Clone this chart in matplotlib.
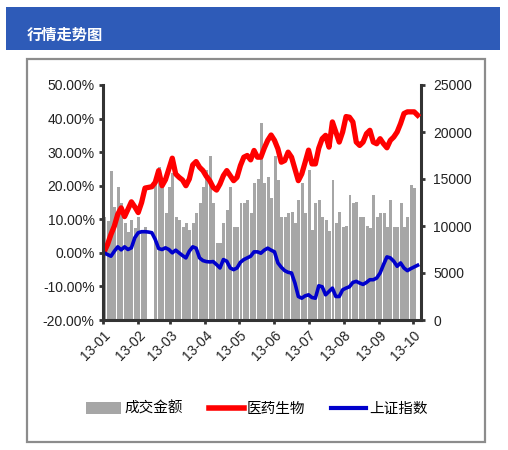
import numpy as np
import pandas as pd
import matplotlib
matplotlib.use('Agg')
import matplotlib.pyplot as plt
import matplotlib.dates as mdates
from matplotlib.patches import Rectangle, Patch
from matplotlib.lines import Line2D

plt.rcParams['font.family'] = ['Liberation Sans', 'Noto Sans CJK SC', 'DejaVu Sans']

dates = pd.date_range('2013-01-02', periods=93, freq='3D')

# 医药生物 (%)
pharma = [0.3, 2.5, 5.5, 8, 11.5, 13.4, 10.8, 13, 15.2, 13.7,
          12, 15, 19.3, 19.5, 19.7, 21, 24.5, 20, 21.8, 25,
          28.2, 23.5, 22.5, 21.7, 20, 22, 26.2, 27.2, 25.5, 24.5,
          22.8, 21.5, 19.5, 18.7, 20.5, 23, 24.5, 23, 21.5, 22.5,
          26, 28.5, 29, 27.7, 30.5, 28.5, 28.5, 31.2, 33.5, 35.1,
          33.5, 31, 27, 27.5, 30, 28.5, 25, 21.5, 23.5, 27,
          30.6, 26.5, 26.5, 31.2, 34, 35, 31.5, 39, 36, 33,
          36, 40.6, 40.4, 39, 33, 32, 33, 35.5, 36.5, 33,
          32.5, 34, 32.5, 31.3, 33.5, 34.5, 36, 38.5, 41.5, 42,
          42, 42, 41]

# 上证指数 (%)
shindex = [0, -0.5, -1, 0.5, 1.8, 0.9, 1.8, 1, 1.5, 4.5,
           6, 6.3, 6.3, 6.2, 6, 4, 1.3, 1, 1.5, 1,
           0, 0.8, 0, -0.8, -1.5, 0.5, 1.8, 1.4, -1.5, -2.3,
           -2.6, -2.7, -2.6, -3.5, -4.5, -2, -2.5, -4.5, -5, -4.5,
           -2.8, -2, -1.5, -1, 0.3, 0.3, -0.1, 0.8, 1.4, 0.8,
           0.3, -3, -4.3, -5.3, -5.8, -6, -9, -13, -13.5, -12.8,
           -12.5, -13.3, -13.5, -9.8, -10.1, -12.5, -11.5, -10.5, -13, -13,
           -11, -10.5, -10.1, -8.8, -8.5, -9, -9.4, -8.8, -8, -8,
           -7.5, -6, -3.5, -1.2, -1.5, -2.5, -4, -3, -4.5, -5.3,
           -4.7, -4.2, -3.7]

# 成交金额
turnover = [11000, 10500, 15800, 12000, 14200, 12500, 10300, 9400, 10600, 9800,
            11000, 9300, 9900, 0, 0, 14900, 16300, 14900, 11400, 14200,
            15600, 11000, 10600, 9900, 10300, 9600, 10300, 11400, 12400, 14200,
            16000, 17400, 12400, 8200, 8200, 10300, 11700, 14200, 9900, 9900,
            12400, 12400, 12800, 11400, 14600, 15000, 21000, 14600, 15200, 13000,
            17400, 14900, 11000, 11000, 11400, 11500, 10300, 12800, 14600, 11400,
            16000, 9600, 12400, 12800, 11000, 10600, 9500, 14900, 10300, 11500,
            9900, 10000, 13300, 12400, 12600, 11000, 11000, 10000, 9800, 13300,
            11000, 11400, 11400, 9900, 12800, 9900, 9900, 12400, 9900, 11000,
            14400, 14000, 0]

fig = plt.figure(figsize=(5.08, 4.5), dpi=100)

# header band and frame
fig.patches.append(Rectangle((6/508, 1-50/450), 494/508, 43/450, transform=fig.transFigure,
                             facecolor='#2E5BB8', edgecolor='none'))
fig.text(27/508, 1-35/450, '行情走势图', color='white', fontsize=11, fontweight='bold',
         va='center', ha='left', family=['Noto Sans CJK SC', 'DejaVu Sans'])
fig.patches.append(Rectangle((27/508, 1-442/450), 458/508, 383/450, transform=fig.transFigure,
                             facecolor='none', edgecolor='#8C8C8C', linewidth=1.6))

ax = fig.add_axes([103/508, 1-320/450, 318/508, 235/450])
ax2 = ax.twinx()

ax2.bar(dates + pd.Timedelta(hours=12), turnover, width=2.6, color='#A6A6A6', linewidth=0)
ax.plot(dates, pharma, color='#FF0000', linewidth=3.8, solid_joinstyle='round')
ax.plot(dates, shindex, color='#0000CC', linewidth=2.6, solid_joinstyle='round')

ax.set_zorder(ax2.get_zorder() + 1)
ax.patch.set_visible(False)

ax.set_xlim(pd.Timestamp('2013-01-01'), pd.Timestamp('2013-10-08'))
ax.set_ylim(-20, 50)
ax.set_yticks(np.arange(-20, 51, 10))
ax.yaxis.set_major_formatter(plt.FuncFormatter(lambda v, p: '%.2f%%' % v))
ax2.set_ylim(0, 25000)
ax2.set_yticks(np.arange(0, 25001, 5000))

ax.xaxis.set_major_locator(mdates.MonthLocator())
ax.xaxis.set_major_formatter(mdates.DateFormatter('%y-%m'))
for lbl in ax.get_xticklabels():
    lbl.set_rotation(45)
    lbl.set_ha('right')
    lbl.set_va('top')
    lbl.set_rotation_mode('anchor')

for a in (ax, ax2):
    for s in a.spines.values():
        s.set_visible(False)
ax.spines['left'].set_visible(True)
ax.spines['bottom'].set_visible(True)
ax2.spines['right'].set_visible(True)
for s in (ax.spines['left'], ax.spines['bottom'], ax2.spines['right']):
    s.set_color('#333333')
    s.set_linewidth(2.2)

ax.tick_params(axis='both', colors='#333333', labelcolor='#222222', labelsize=10,
               length=3, width=2, direction='out', pad=3)
ax2.tick_params(axis='y', colors='#333333', labelcolor='#222222', labelsize=10,
                length=3, width=2, direction='out', pad=6)

handles = [Patch(facecolor='#A6A6A6', edgecolor='none'),
           Line2D([], [], color='#FF0000', linewidth=4),
           Line2D([], [], color='#0000CC', linewidth=3)]
fig.legend(handles, ['成交金额', '医药生物', '上证指数'], loc='center', ncol=3,
           bbox_to_anchor=(257/508, 1-409/450), frameon=False,
           prop={'family': ['Noto Sans CJK SC', 'DejaVu Sans'], 'size': 10.5},
           handlelength=2.4, handleheight=0.8, handletextpad=0.2, columnspacing=1.8)

fig.savefig('out.png', dpi=100)
